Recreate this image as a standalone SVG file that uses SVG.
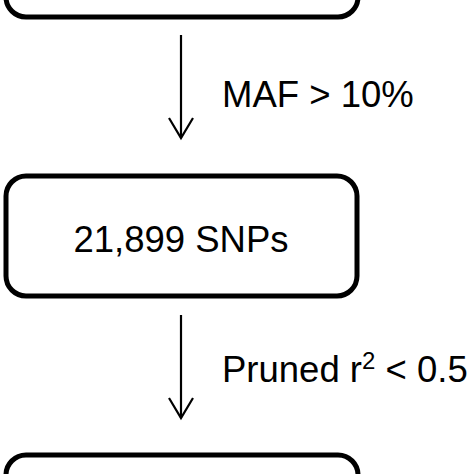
<svg xmlns="http://www.w3.org/2000/svg" width="474" height="474" viewBox="0 0 474 474">
<style>
.box{fill:#fff;stroke:#000;stroke-width:5}
.t{font-family:"Liberation Sans",Arial,sans-serif;font-size:36.5px;fill:#000}
.c{stroke:#000;stroke-width:2.2;fill:none}
</style>
<rect width="474" height="474" fill="#fff"/>
<g id="node1"><rect class="box" x="6" y="-110" width="352" height="127" rx="20"/></g>
<g id="node2"><rect class="box" x="6" y="176" width="351" height="120" rx="20"/><text class="t" x="181" y="252" text-anchor="middle">21,899 SNPs</text></g>
<g id="node3"><rect class="box" x="6" y="455" width="352" height="120" rx="20"/></g>
<g id="connectors">
<line class="c" x1="181" y1="35" x2="181" y2="138"/>
<polyline class="c" points="169,118 181,138 193,118"/>
<text class="t" x="222" y="107">MAF &gt; 10%</text>
<line class="c" x1="181" y1="315" x2="181" y2="418"/>
<polyline class="c" points="169,398 181,418 193,398"/>
<text class="t" x="222" y="382">Pruned r<tspan font-size="24" dy="-13">2</tspan><tspan dy="13"> &lt; 0.5</tspan></text>
</g>
</svg>
